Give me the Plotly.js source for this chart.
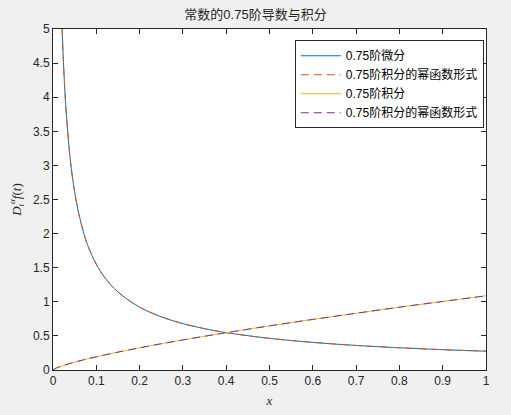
<!DOCTYPE html>
<html>
<head>
<meta charset="utf-8">
<script src="https://cdn.plot.ly/plotly-3.0.1.min.js"></script>
<style>html,body{margin:0;padding:0;background:#f0f0f0;}#chart{width:511px;height:415px;}</style>
</head>
<body>
<div id="chart"></div>
<script>
// x samples for the derivative curve
var xDeriv = [0.02, 0.025, 0.03, 0.04, 0.05, 0.06, 0.07, 0.08, 0.1, 0.12, 0.15, 0.2, 0.25, 0.3, 0.35, 0.4, 0.5, 0.6, 0.7, 0.8, 0.9, 1.0];
var yDeriv = [5.19, 4.39, 3.83, 3.08, 2.61, 2.28, 2.03, 1.83, 1.551, 1.353, 1.144, 0.922, 0.780, 0.680, 0.606, 0.548, 0.464, 0.405, 0.360, 0.326, 0.298, 0.276];
var yDerivPow = [5.19, 4.39, 3.83, 3.08, 2.61, 2.28, 2.03, 1.83, 1.551, 1.353, 1.144, 0.922, 0.780, 0.680, 0.606, 0.548, 0.464, 0.405, 0.360, 0.326, 0.298, 0.276];
// x samples for the integral curve
var xInteg = [0, 0.005, 0.01, 0.02, 0.03, 0.04, 0.05, 0.06, 0.07, 0.08, 0.1, 0.12, 0.15, 0.2, 0.25, 0.3, 0.35, 0.4, 0.5, 0.6, 0.7, 0.8, 0.9, 1.0];
var yInteg = [0, 0.0204, 0.0344, 0.0579, 0.0784, 0.0973, 0.115, 0.132, 0.148, 0.164, 0.193, 0.222, 0.262, 0.325, 0.385, 0.441, 0.495, 0.547, 0.647, 0.742, 0.832, 0.921, 1.005, 1.088];
var yIntegPow = [0, 0.0204, 0.0344, 0.0579, 0.0784, 0.0973, 0.115, 0.132, 0.148, 0.164, 0.193, 0.222, 0.262, 0.325, 0.385, 0.441, 0.495, 0.547, 0.647, 0.742, 0.832, 0.921, 1.005, 1.088];
var seriesNames = ["0.75阶微分", "0.75阶积分的幂函数形式", "0.75阶积分", "0.75阶积分的幂函数形式"];
var xTicks = [0, 0.1, 0.2, 0.3, 0.4, 0.5, 0.6, 0.7, 0.8, 0.9, 1];
var yTicks = [0, 0.5, 1, 1.5, 2, 2.5, 3, 3.5, 4, 4.5, 5];

var FONT = "Liberation Sans, Arial, Noto Sans CJK SC, sans-serif";
var DASH = "8px,5px";
var traces = [
  {x: xDeriv, y: yDeriv, name: seriesNames[0], mode: "lines", line: {color: "#0072BD", width: 1, shape: "spline"}},
  {x: xDeriv, y: yDerivPow, name: seriesNames[1], mode: "lines", line: {color: "#D95319", width: 1, dash: DASH, shape: "spline"}},
  {x: xInteg, y: yInteg, name: seriesNames[2], mode: "lines", line: {color: "#EDB120", width: 1, shape: "spline"}},
  {x: xInteg, y: yIntegPow, name: seriesNames[3], mode: "lines", line: {color: "#7E2F8E", width: 1, dash: DASH, shape: "spline"}}
];
var axisCommon = {
  showgrid: false, zeroline: false, showline: true, mirror: "ticks",
  linecolor: "#262626", linewidth: 1, ticks: "inside", ticklen: 5, tickwidth: 1, tickcolor: "#262626",
  tickfont: {family: FONT, size: 12, color: "#262626"}
};
var layout = {
  width: 511, height: 415,
  paper_bgcolor: "#f0f0f0", plot_bgcolor: "#ffffff",
  margin: {l: 53, r: 25, t: 29, b: 45},
  showlegend: true,
  title: {text: "常数的0.75阶导数与积分", font: {family: FONT, size: 13, color: "#262626"}, x: 0.5, xanchor: "center", y: 0.966, yanchor: "middle"},
  xaxis: Object.assign({}, axisCommon, {range: [0, 1], tickvals: xTicks, ticktext: xTicks.map(String),
    title: {text: "<i>x</i>", font: {family: "Liberation Serif, serif", size: 13, color: "#262626"}, standoff: 8}}),
  yaxis: Object.assign({}, axisCommon, {range: [0, 5], tickvals: yTicks, ticktext: yTicks.map(String),
    title: {text: "<i>D</i><sub><i>t</i></sub><sup><i>α</i></sup><i>f</i>(<i>t</i>)", font: {family: "Liberation Serif, serif", size: 13, color: "#262626"}, standoff: 8}}),
  legend: {x: 0.995, xanchor: "right", y: 0.967, yanchor: "top", bgcolor: "#ffffff", bordercolor: "#262626", borderwidth: 1,
    font: {family: FONT, size: 12, color: "#000000"}, tracegroupgap: 0, itemwidth: 40}
};
Plotly.newPlot("chart", traces, layout, {staticPlot: true, displayModeBar: false});
</script>
</body>
</html>
